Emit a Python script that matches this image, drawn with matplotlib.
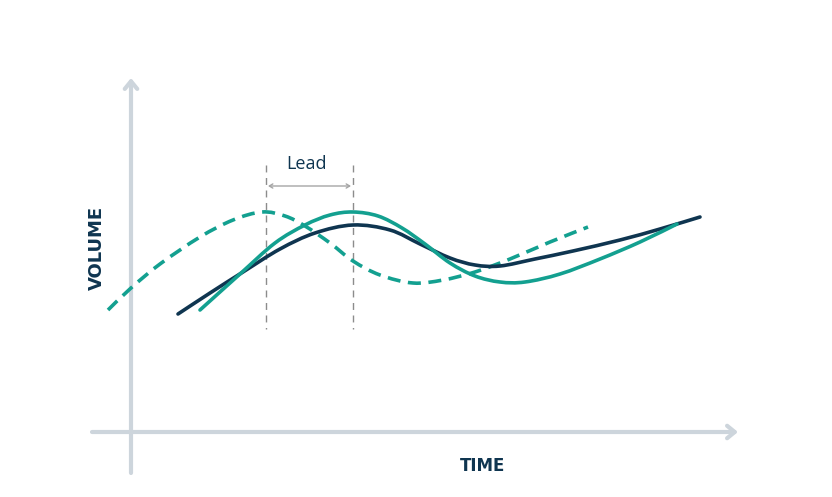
import numpy as np
import matplotlib
matplotlib.use("Agg")
import matplotlib.pyplot as plt
from matplotlib.path import Path
from matplotlib.patches import PathPatch

W, H = 832, 497
BASE = 432  # pixel row of the time axis

# ---- data (time, height in pixels above the time axis) ----
actual_time = [178, 210, 243, 280, 315, 353, 390, 420, 450, 475, 500, 535, 573, 620, 660, 700]
actual_px = [314, 293, 272, 249, 233, 225, 230, 244, 258, 265, 266, 259, 251, 240, 229, 217]

shifted_time = [200, 240, 275, 305, 330, 353, 378, 402, 425, 450, 475, 500, 525, 560, 600, 640, 677]
shifted_px = [310, 274, 243, 225, 215, 212, 216, 228, 244, 263, 276, 282, 282, 274, 259, 242, 224]

leading_time = [108, 131, 160, 200, 233, 262, 285, 305, 330, 353, 380, 413, 443, 475, 510, 550, 588]
leading_px = [310, 288, 264, 237, 220, 212, 216, 226, 243, 261, 275, 283, 280, 272, 259, 242, 227]

actual_vol = [BASE - v for v in actual_px]
shifted_vol = [BASE - v for v in shifted_px]
leading_vol = [BASE - v for v in leading_px]

lead_start, lead_end = 266, 353
lead_label = "Lead"
x_label = "TIME"
y_label = "VOLUME"

NAVY = "#0f3550"
TEAL = "#13a090"
AXIS = "#cdd5dc"
GRAY = "#8c8c8c"

fig = plt.figure(figsize=(W / 100, H / 100), dpi=100)
ax = fig.add_axes([0, 0, 1, 1])
ax.set_xlim(0, W)
ax.set_ylim(BASE - H, BASE)
ax.axis("off")


def smooth_path(xs, ys):
    p = np.column_stack([xs, ys]).astype(float)
    verts = [p[0]]
    codes = [Path.MOVETO]
    n = len(p)
    for i in range(n - 1):
        p0 = p[i - 1] if i > 0 else p[i]
        p1, p2 = p[i], p[i + 1]
        p3 = p[i + 2] if i + 2 < n else p[i + 1]
        c1 = p1 + (p2 - p0) / 6.0
        c2 = p2 - (p3 - p1) / 6.0
        verts += [c1, c2, p2]
        codes += [Path.CURVE4] * 3
    return Path(verts, codes)


def draw(xs, ys, color, dashed=False, z=3):
    kw = dict(facecolor="none", edgecolor=color, lw=2.6, zorder=z,
              capstyle="round", joinstyle="round")
    if dashed:
        kw["linestyle"] = (0, (3.6, 2.1))
        kw["capstyle"] = "butt"
    ax.add_patch(PathPatch(smooth_path(xs, ys), **kw))


# axes with chevron arrows
ax.annotate("", xy=(131, BASE - 78), xytext=(131, BASE - 473),
            arrowprops=dict(arrowstyle="->,head_length=0.55,head_width=0.45",
                            color=AXIS, lw=3, shrinkA=0, shrinkB=0), zorder=1)
ax.annotate("", xy=(738, 0), xytext=(92, 0),
            arrowprops=dict(arrowstyle="->,head_length=0.55,head_width=0.45",
                            color=AXIS, lw=3, shrinkA=0, shrinkB=0), zorder=1)

# lead markers
for xv in (lead_start, lead_end):
    ax.plot([xv, xv], [BASE - 165, BASE - 329], color=GRAY, lw=1.0,
            linestyle=(0, (5, 4)), zorder=2)
ax.annotate("", xy=(lead_end - 2, BASE - 186), xytext=(lead_start + 2, BASE - 186),
            arrowprops=dict(arrowstyle="<->,head_length=0.25,head_width=0.15",
                            color="#a5a5a5", lw=1.0, shrinkA=0, shrinkB=0), zorder=2)
ax.text(306, BASE - 164, lead_label, ha="center", va="center",
        fontsize=13, color=NAVY, family=["Open Sans", "DejaVu Sans"])

draw(leading_time, leading_vol, TEAL, dashed=True, z=3)
draw(actual_time, actual_vol, NAVY, z=4)
draw(shifted_time, shifted_vol, TEAL, z=5)

ax.text(483, BASE - 466, x_label, ha="center", va="center", fontsize=12,
        fontweight="bold", color=NAVY, family=["DejaVu Sans"])
ax.text(97, BASE - 248, y_label, ha="center", va="center", fontsize=13,
        fontweight="bold", color=NAVY, rotation=90, family=["DejaVu Sans"])

fig.savefig("out.png", dpi=100)
